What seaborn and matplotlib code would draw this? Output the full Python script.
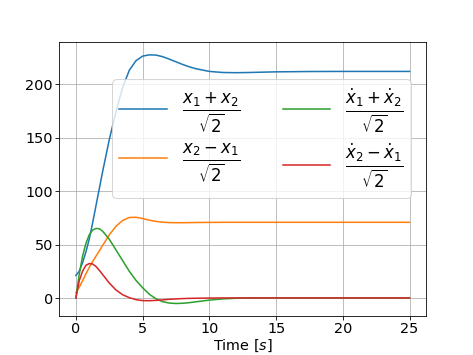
import pandas as pd
import numpy as np
import matplotlib
matplotlib.use('Agg')
import matplotlib.pyplot as plt
import seaborn as sns

time = [0, 0.25, 0.5, 0.75, 1.0, 1.25, 1.5, 1.75, 2.0, 2.5, 3.0, 3.5, 4.0, 4.5,
        5.0, 5.5, 6.0, 6.5, 7.0, 7.5, 8.0, 8.5, 9.0, 10, 11, 12, 13, 14, 15,
        17.5, 20, 22.5, 25]

sum_pos = [21, 25, 33, 43, 55, 70, 86, 102, 118, 148, 174, 197, 213, 222,
           226.3, 227.5, 227.3, 225.8, 223.5, 221, 218.5, 216.3, 214.5, 212, 211,
           210.8, 211, 211.3, 211.6, 211.9, 212, 212, 212]
diff_pos = [5, 10, 16, 22.5, 28.5, 34, 39, 44, 49, 59, 67, 72.5, 75.3, 75.5,
            74.3, 72.8, 71.6, 70.9, 70.5, 70.4, 70.4, 70.5, 70.6, 70.7, 70.8,
            70.8, 70.8, 70.8, 70.8, 70.8, 70.8, 70.8, 70.8]
sum_vel = [0, 22, 39, 51, 59, 63.5, 65, 64.8, 62.5, 55, 45, 35, 25, 16.5,
           9.5, 3.5, -0.8, -3.5, -4.8, -5.2, -5, -4.4, -3.6, -2, -0.9,
           -0.3, 0, 0, 0, 0, 0, 0, 0]
diff_vel = [0, 16, 25, 30.5, 32.2, 31.8, 29.5, 26, 22, 14, 7.5, 3, 0.3, -1.6,
            -2.5, -2.6, -2.3, -1.8, -1.3, -0.9, -0.6, -0.4, -0.3, -0.1, 0,
            0, 0, 0, 0, 0, 0, 0, 0]

labels = [r'$\frac{x_1+x_2}{\sqrt{2}}$',
          r'$\frac{x_2-x_1}{\sqrt{2}}$',
          r'$\frac{\dot{x}_1+\dot{x}_2}{\sqrt{2}}$',
          r'$\frac{\dot{x}_2-\dot{x}_1}{\sqrt{2}}$']

frames = []
for lab, vals in zip(labels, [sum_pos, diff_pos, sum_vel, diff_vel]):
    frames.append(pd.DataFrame({'t': time, 'value': vals, 'signal': lab}))
data = pd.concat(frames, ignore_index=True)

fig, ax = plt.subplots(figsize=(6.4, 4.8), dpi=74)
sns.lineplot(data=data, x='t', y='value', hue='signal', hue_order=labels,
             palette=['C0', 'C1', 'C2', 'C3'], estimator=None, ax=ax)
ax.grid(True)
ax.set_xlabel('Time [$s$]', fontsize=14, labelpad=1)
ax.set_ylabel('')
ax.tick_params(labelsize=14, pad=2.5)
ax.legend(ncol=2, fontsize=23, loc='center', bbox_to_anchor=(0.551, 0.648),
          labelspacing=0.25, borderpad=0.3, handletextpad=0.65, columnspacing=1.8)
fig.savefig('out.png', dpi=74)
